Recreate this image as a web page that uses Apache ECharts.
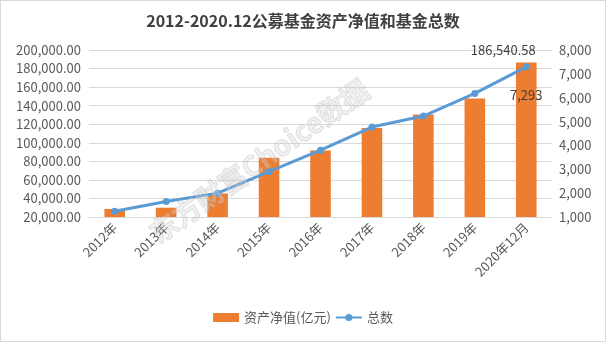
<!DOCTYPE html>
<html>
<head>
<meta charset="utf-8">
<script src="https://cdn.jsdelivr.net/npm/echarts@6/dist/echarts.min.js"></script>
<style>
html,body{margin:0;padding:0;background:#fff;}
#chart{width:606px;height:342px;box-sizing:border-box;border:1px solid #d9d9d9;}
</style>
</head>
<body>
<div id="chart"></div>
<script>
// Categories and series
const categories = ['2012年','2013年','2014年','2015年','2016年','2017年','2018年','2019年','2020年12月'];
const netAssets = [28661, 30011, 45354, 83971, 91593, 115997, 130347, 147672, 186540.58]; // 亿元
const fundCount = [1240, 1650, 2000, 2900, 3800, 4770, 5230, 6180, 7293];
const leftTicks = { min: 20000, max: 200000, interval: 20000 };
const rightTicks = { min: 1000, max: 8000, interval: 1000 };

const FONT = '"Noto Sans CJK SC", "Microsoft YaHei", sans-serif';
const fmt = (v, d) => v.toLocaleString('en-US', { minimumFractionDigits: d, maximumFractionDigits: d });

const chart = echarts.init(document.getElementById('chart'), null, { renderer: 'canvas' });
const last = categories.length - 1;

chart.setOption({
  backgroundColor: '#fff',
  animation: false,
  textStyle: { fontFamily: FONT },
  title: {
    text: '2012-2020.12公募基金资产净值和基金总数',
    left: 'center', top: 7,
    textStyle: { fontFamily: FONT, fontSize: 16, fontWeight: 'bold', color: '#404040' }
  },
  grid: { left: 88, right: 53, top: 49, bottom: 124, containLabel: false },
  legend: {
    bottom: 12, left: 'center',
    itemWidth: 26, itemHeight: 9, itemGap: 4,
    textStyle: { fontFamily: FONT, fontSize: 13, color: '#595959' },
    data: [
      { name: '资产净值(亿元)', icon: 'rect' },
      { name: '总数' }
    ]
  },
  xAxis: {
    type: 'category',
    data: categories,
    axisLine: { lineStyle: { color: '#d9d9d9' } },
    axisTick: { show: false },
    axisLabel: { rotate: 45, color: '#595959', fontSize: 13, margin: 8, fontFamily: FONT, interval: 0 }
  },
  yAxis: [
    {
      type: 'value', min: leftTicks.min, max: leftTicks.max, interval: leftTicks.interval,
      axisLine: { show: false }, axisTick: { show: false },
      splitLine: { lineStyle: { color: '#d9d9d9' } },
      axisLabel: { color: '#595959', fontSize: 13, margin: 8, fontFamily: FONT, formatter: v => fmt(v, 2) }
    },
    {
      type: 'value', min: rightTicks.min, max: rightTicks.max, interval: rightTicks.interval,
      axisLine: { show: false }, axisTick: { show: false },
      splitLine: { show: false },
      axisLabel: { color: '#595959', fontSize: 13, margin: 7, fontFamily: FONT, formatter: v => fmt(v, 0) }
    }
  ],
  series: [
    {
      name: '资产净值(亿元)', type: 'bar', yAxisIndex: 0,
      barWidth: '40%',
      itemStyle: { color: '#ed7d31' },
      data: netAssets.map((v, i) => ({
        value: v,
        label: {
          show: i === last, position: 'top', distance: 6, offset: [-23, 0],
          color: '#404040', fontSize: 13, fontFamily: FONT,
          formatter: p => fmt(p.value, 2)
        }
      })),
      z: 2
    },
    {
      name: '总数', type: 'line', yAxisIndex: 1,
      symbol: 'circle', symbolSize: 7,
      lineStyle: { color: '#5b9bd5', width: 3 },
      itemStyle: { color: '#5b9bd5' },
      data: fundCount.map((v, i) => ({
        value: v,
        label: {
          show: i === last, position: 'bottom', distance: 18,
          color: '#404040', fontSize: 13, fontFamily: FONT,
          formatter: p => fmt(p.value, 0)
        }
      })),
      z: 3
    }
  ],
  graphic: [
    {
      type: 'text', z: 10,
      x: 258, y: 160, rotation: Math.PI * 35 / 180,
      style: {
        text: '东方财富Choice数据',
        x: 0, y: 0, align: 'center', verticalAlign: 'middle',
        font: 'bold 28px ' + FONT,
        fill: 'rgba(215,215,215,0.35)',
        stroke: 'rgba(170,170,170,0.35)', lineWidth: 1
      }
    }
  ]
});
</script>
</body>
</html>
